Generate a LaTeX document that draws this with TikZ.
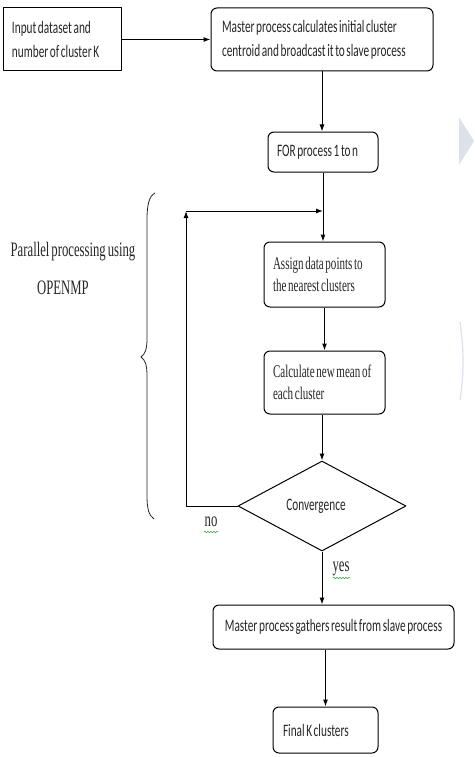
\documentclass[tikz,border=0pt]{standalone}
\usepackage{fontspec}
\usetikzlibrary{arrows.meta,shapes.geometric,decorations.pathmorphing}
\newfontfamily\calfont[FakeStretch=0.645,WordSpace=0.62]{Carlito}
\newfontfamily\tnrfont[FakeStretch=0.62,WordSpace=0.62]{Liberation Serif}
\definecolor{txt}{HTML}{262626}
\definecolor{ghost}{HTML}{DDE1EA}
\definecolor{wavy}{HTML}{4CA64C}
\hyphenpenalty=10000
\exhyphenpenalty=10000
\begin{document}
\begin{tikzpicture}[x=1pt,y=-1pt,>={Latex[length=7pt,width=5pt]},line join=round,line width=1pt,
	box/.style={draw,inner xsep=9pt,inner ysep=0pt,align=left,text=txt,font=\calfont\fontsize{17.5}{24}\selectfont,
		execute at begin node={\spaceskip=0pt\xspaceskip=0pt}},
	rbox/.style={box,rounded corners=6pt},
	tbox/.style={rbox,font=\tnrfont\fontsize{17.8}{22}\selectfont},
	lbl/.style={text=txt,font=\tnrfont\fontsize{20.5}{24}\selectfont},
	squiggle/.style={wavy,line width=0.6pt,decorate,decoration={snake,amplitude=0.8pt,segment length=3pt}}]
	\useasboundingbox (0,0) rectangle (474,757);
	\node[box,text width=100pt,minimum height=63pt] (inp) at (62,39.5) {Input dataset and\\number of cluster K};
	\node[rbox,inner xsep=11pt,text width=200pt,minimum height=63pt] (mst) at (322,39.5) {Master process calculates initial cluster\\centroid and broadcast it to slave process};
	\node[rbox,text width=92pt,minimum height=40pt] (for) at (323,152) {FOR process 1 to n};
	\node[tbox,text width=103pt,minimum height=65pt] (asg) at (324.5,274.5) {Assign data points to\\the nearest clusters};
	\node[tbox,text width=103pt,minimum height=63pt] (cal) at (324.5,382.5) {Calculate new mean of\\each cluster};
	\node[draw,diamond,minimum width=168pt,minimum height=90pt,inner sep=0pt,text=txt,font=\calfont\fontsize{17.5}{24}\selectfont] (cnv) at (322,506) {Convergence\hspace*{12pt}};
	\node[rbox,inner xsep=8pt,text width=225pt,align=center,minimum height=44pt] (gat) at (333.5,627) {Master process gathers result from slave process};
	\node[rbox,inner xsep=10pt,text width=85pt,minimum height=46pt] (fin) at (325.5,730) {Final K clusters};
	\node[lbl] (par) at (73,252) {Parallel processing using};
	\node[lbl] (omp) at (63,288) {OPENMP};
	\node[lbl] (no) at (211,522) {no};
	\node[lbl] (yes) at (341,569) {yes};
	\coordinate (join) at (for.south |- 0,211);
	\coordinate (back) at (186,211);
	\draw[->] (inp) -- (mst);
	\draw[->] (mst) -- (mst.south |- for.north);
	\draw[->] (for) -- (for.south |- asg.north);
	\draw[->] (asg) -- (cal);
	\draw[->] (cal.south -| cnv.north) -- (cnv.north);
	\draw[->] (cnv.west) -| (back);
	\draw[->] (back) -- (join);
	\draw[->] (cnv.south) -- (cnv.south |- gat.north);
	\draw[->] (gat.south -| fin.north) -- (fin);
	\draw[txt,line width=0.8pt] (155,193) .. controls (149,196) and (147,205) .. (147,220) -- (147,338) .. controls (147,350) and (145,354) .. (141,357) .. controls (145,360) and (147,364) .. (147,376) -- (147,495) .. controls (147,510) and (149,515) .. (154,519);
	\draw[squiggle] (204,532) -- (218,532);
	\draw[squiggle] (333,578) -- (350,578);
	\fill[ghost] (459,117) -- (474,141) -- (459,165) -- cycle;
	\draw[ghost,line width=1.2pt] (460,322) .. controls (464,350) and (464,375) .. (460,400);
\end{tikzpicture}
\end{document}
